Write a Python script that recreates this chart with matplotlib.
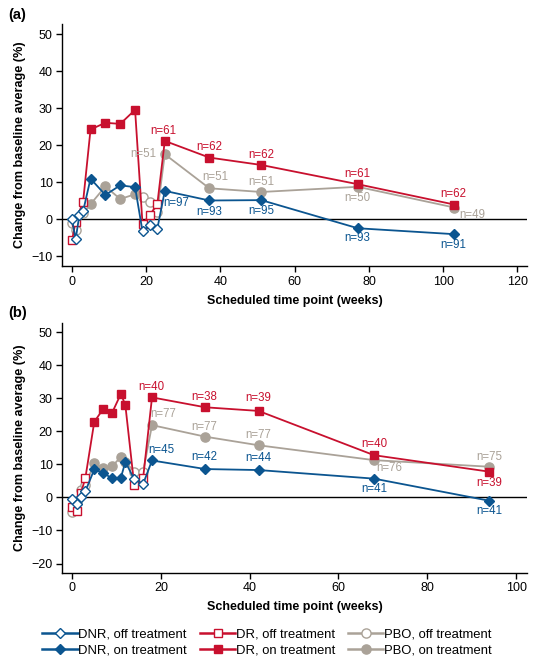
import matplotlib
matplotlib.use("Agg")
import matplotlib.pyplot as plt
from matplotlib.lines import Line2D
import numpy as np

plt.rcParams['font.family'] = ['Liberation Sans', 'DejaVu Sans']

RED = '#C8102E'
BLUE = '#0B5590'
GRAY = '#AAA298'

# ---------------- Panel (a) data ----------------
a_dnr_wk = [0, 1, 2, 3, 5, 9, 13, 17, 19, 21, 23, 25, 37, 51, 77, 103]
a_dnr_val = [0.0, -5.3, 1.2, 2.2, 11.0, 6.6, 9.2, 8.7, -3.2, -1.5, -2.5, 7.7, 5.1, 5.2, -2.4, -4.0]
a_dnr_on = [0, 0, 0, 0, 1, 1, 1, 1, 0, 0, 0, 1, 1, 1, 1, 1]

a_dr_wk = [0, 1, 3, 5, 9, 13, 17, 19, 21, 23, 25, 37, 51, 77, 103]
a_dr_val = [-5.7, -0.6, 4.8, 24.3, 26.1, 25.8, 29.6, -1.2, 1.2, 4.2, 21.2, 16.7, 14.7, 9.5, 4.0]
a_dr_on = [0, 0, 0, 1, 1, 1, 1, 0, 0, 0, 1, 1, 1, 1, 1]

a_pbo_wk = [0, 1, 3, 5, 9, 13, 17, 19, 21, 23, 25, 37, 51, 77, 103]
a_pbo_val = [-1.0, -2.9, 1.6, 4.1, 8.9, 5.5, 6.8, 6.0, 4.6, 2.1, 17.6, 8.4, 7.4, 8.8, 3.2]
a_pbo_on = [0, 0, 0, 1, 1, 1, 1, 0, 0, 0, 1, 1, 1, 1, 1]

a_labels = [  # (text, x, y, colour key)
    ('n=61', 24.6, 23.9, 'DR'), ('n=62', 36.9, 19.5, 'DR'), ('n=62', 50.9, 17.4, 'DR'),
    ('n=61', 76.8, 12.2, 'DR'), ('n=62', 102.8, 6.8, 'DR'),
    ('n=51', 19.3, 17.6, 'PBO'), ('n=51', 38.7, 11.4, 'PBO'), ('n=51', 50.9, 10.0, 'PBO'),
    ('n=50', 76.8, 5.7, 'PBO'), ('n=49', 107.7, 1.2, 'PBO'),
    ('n=97', 28.2, 4.3, 'DNR'), ('n=93', 36.9, 1.9, 'DNR'), ('n=95', 50.9, 2.3, 'DNR'),
    ('n=93', 76.8, -5.1, 'DNR'), ('n=91', 102.8, -6.9, 'DNR'),
]

# ---------------- Panel (b) data ----------------
b_dnr_wk = [0, 1, 2, 3, 5, 7, 9, 11, 12, 14, 16, 18, 30, 42, 68, 94]
b_dnr_val = [-0.6, -2.0, 0.2, 1.9, 8.5, 7.4, 5.8, 6.0, 10.8, 5.5, 4.1, 11.2, 8.6, 8.3, 5.7, -1.0]
b_dnr_on = [0, 0, 0, 0, 1, 1, 1, 1, 1, 0, 0, 1, 1, 1, 1, 1]

b_dr_wk = [0, 1, 2, 3, 5, 7, 9, 11, 12, 14, 16, 18, 30, 42, 68, 94]
b_dr_val = [-3.0, -4.2, 1.3, 6.0, 22.9, 26.8, 25.6, 31.4, 27.9, 3.7, 5.9, 30.3, 27.3, 26.2, 12.8, 7.8]
b_dr_on = [0, 0, 0, 0, 1, 1, 1, 1, 1, 0, 0, 1, 1, 1, 1, 1]

b_pbo_wk = [0, 1, 2, 3, 5, 7, 9, 11, 12, 14, 16, 18, 30, 42, 68, 94]
b_pbo_val = [-4.3, -1.5, 2.4, 3.8, 10.3, 8.8, 9.4, 12.3, 10.8, 7.8, 7.8, 21.9, 18.4, 15.8, 11.3, 9.3]
b_pbo_on = [0, 0, 0, 0, 1, 1, 1, 1, 1, 0, 0, 1, 1, 1, 1, 1]

b_labels = [
    ('n=40', 17.9, 33.3, 'DR'), ('n=38', 29.8, 30.3, 'DR'), ('n=39', 41.9, 30.1, 'DR'),
    ('n=40', 68.0, 16.2, 'DR'), ('n=39', 93.9, 4.5, 'DR'),
    ('n=77', 20.5, 25.2, 'PBO'), ('n=77', 29.8, 21.4, 'PBO'), ('n=77', 41.9, 18.9, 'PBO'),
    ('n=76', 71.4, 8.8, 'PBO'), ('n=75', 93.9, 12.1, 'PBO'),
    ('n=45', 20.2, 14.3, 'DNR'), ('n=42', 29.8, 12.1, 'DNR'), ('n=44', 41.9, 11.8, 'DNR'),
    ('n=41', 68.0, 2.5, 'DNR'), ('n=41', 93.9, -4.2, 'DNR'),
]

COLORS = {'DNR': BLUE, 'DR': RED, 'PBO': GRAY}
MARKERS = {'DNR': ('D', 5.3), 'DR': ('s', 6.1), 'PBO': ('o', 6.6)}


def draw_series(ax, key, wk, val, on, z):
    col = COLORS[key]
    mk, ms = MARKERS[key]
    wk = np.asarray(wk, float)
    val = np.asarray(val, float)
    on = np.asarray(on, bool)
    ax.plot(wk, val, '-', color=col, lw=1.3, zorder=z)
    ax.plot(wk[~on], val[~on], linestyle='none', marker=mk, ms=ms, mfc='white',
            mec=col, mew=1.0, zorder=z + 0.5)
    ax.plot(wk[on], val[on], linestyle='none', marker=mk, ms=ms, mfc=col,
            mec=col, mew=1.0, zorder=z + 0.5)


def style_axes(ax, xlim, ylim, xticks, yticks):
    ax.set_xlim(*xlim)
    ax.set_ylim(*ylim)
    ax.set_xticks(xticks)
    ax.set_yticks(yticks)
    for s in ['top', 'right']:
        ax.spines[s].set_visible(False)
    for s in ['left', 'bottom']:
        ax.spines[s].set_linewidth(1.0)
    ax.tick_params(direction='out', length=4, width=1.0, labelsize=9, pad=3)
    ax.axhline(0, color='black', lw=1.0, zorder=1)
    ax.set_xlabel('Scheduled time point (weeks)', fontsize=9, fontweight='bold', labelpad=5)
    ax.set_ylabel('Change from baseline average (%)', fontsize=9.1, fontweight='bold', labelpad=4)


fig = plt.figure(figsize=(5.34, 6.66), dpi=100)
axa = fig.add_axes([0.1167, 0.6006, 0.8697, 0.3634])
axb = fig.add_axes([0.1167, 0.1400, 0.8697, 0.3754])

for ax, data, labels in [
    (axa, [('PBO', a_pbo_wk, a_pbo_val, a_pbo_on), ('DR', a_dr_wk, a_dr_val, a_dr_on),
           ('DNR', a_dnr_wk, a_dnr_val, a_dnr_on)], a_labels),
    (axb, [('PBO', b_pbo_wk, b_pbo_val, b_pbo_on), ('DR', b_dr_wk, b_dr_val, b_dr_on),
           ('DNR', b_dnr_wk, b_dnr_val, b_dnr_on)], b_labels),
]:
    for i, (key, wk, val, on) in enumerate(data):
        draw_series(ax, key, wk, val, on, 2 + i)
    for txt, x, y, key in labels:
        ax.text(x, y, txt, color=COLORS[key], fontsize=8.3, ha='center', va='center', zorder=10)

style_axes(axa, (-2.6, 122.5), (-12.6, 52.8), np.arange(0, 121, 20), np.arange(-10, 51, 10))
style_axes(axb, (-2.2, 102.4), (-22.8, 52.9), np.arange(0, 101, 20), np.arange(-20, 51, 10))

fig.text(0.015, 0.977, '(a)', fontsize=10.5, fontweight='bold', va='center', ha='left')
fig.text(0.015, 0.530, '(b)', fontsize=10.5, fontweight='bold', va='center', ha='left')

handles = []
names = []
for key, nm in [('DNR', 'DNR'), ('DR', 'DR'), ('PBO', 'PBO')]:
    mk, ms = MARKERS[key]
    col = COLORS[key]
    handles.append(Line2D([], [], color=col, lw=1.8, marker=mk, ms=ms, mfc='white', mec=col, mew=1.0))
    names.append(f'{nm}, off treatment')
    handles.append(Line2D([], [], color=col, lw=1.8, marker=mk, ms=ms, mfc=col, mec=col, mew=1.0))
    names.append(f'{nm}, on treatment')

fig.legend(handles, names, loc='center', bbox_to_anchor=(0.5, 0.0353), ncol=3, frameon=False,
           fontsize=9.4, handlelength=2.7, handletextpad=0.05, columnspacing=1.0,
           labelspacing=0.25, borderaxespad=0)

fig.savefig('out.png', dpi=100)
